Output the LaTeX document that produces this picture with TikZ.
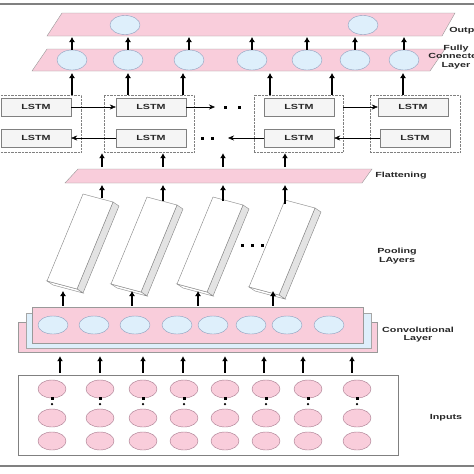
\documentclass[tikz,border=0pt]{standalone}
\usepackage{fontspec}
\newfontfamily\lblfont[FakeStretch=1.45]{Liberation Sans}
\usetikzlibrary{arrows.meta,shapes.geometric}

\definecolor{layerpink}{RGB}{249,205,219}
\definecolor{cellblue}{RGB}{222,239,251}
\definecolor{cellline}{RGB}{140,160,190}
\definecolor{inline}{RGB}{165,120,140}

\begin{document}
\begin{tikzpicture}[x=1pt,y=-1pt,>={Latex[length=5pt,width=6pt]},semithick,
    font=\lblfont\bfseries\fontsize{7.4}{8.5}\selectfont]
        \tikzstyle{layer}=[fill=layerpink,draw=gray!80,thin]
        \tikzstyle{cell}=[ellipse,fill=cellblue,draw=cellline,thin,minimum width=30pt,minimum height=19pt,inner sep=0pt]
        \tikzstyle{incell}=[ellipse,fill=layerpink,draw=inline,thin,minimum width=28pt,minimum height=18pt,inner sep=0pt]
        \tikzstyle{lstmbox}=[draw=gray,fill=gray!8,thin,minimum width=70pt,minimum height=18pt,inner sep=0pt,text=black!85]
        \tikzstyle{group}=[draw=gray,densely dotted,thin,minimum height=57pt,inner sep=0pt]
        \tikzstyle{uparrow}=[->,line width=1.3pt]
        \tikzstyle{sidearrow}=[-{Stealth[length=6pt,width=5pt]},thin]
        \tikzstyle{lbl}=[text=black!85,align=center,inner sep=0pt]
        \tikzstyle{dot}=[fill=black,inner sep=0pt,minimum size=3pt]
        \tikzstyle{slab}=[draw=gray,thin]

        \useasboundingbox (0,0) rectangle (474,474);
        \fill[white] (0,0) rectangle (474,474);
        \draw[gray,line width=1.5pt] (0,4) -- (474,4);
        \draw[gray,line width=1.5pt] (0,466) -- (474,466);

        % output layer
        \draw[layer] (62,13) -- (455,13) -- (442,36) -- (47,36) -- cycle;
        \coordinate (outbot) at (0,36);
        \node[cell] (out1) at (125,25) {};
        \node[cell] (out2) at (363,25) {};
        \node[lbl,anchor=west] (outlbl) at (449,31) {Output};

        % fully connected layer
        \draw[layer] (47,49) -- (445,49) -- (430,71) -- (32,71) -- cycle;
        \coordinate (fcbot) at (0,71);
        \foreach \x [count=\i] in {72,128,189,252,307,355,404}
            \node[cell,minimum height=20pt] (fc\i) at (\x,60) {};
        \foreach \i in {1,...,7}
            \draw[uparrow,shorten >=1pt] (fc\i.north) -- (fc\i |- outbot);
        \node[lbl] (fclbl) at (456,57) {Fully\\Connected\\Layer};

        % lstm blocks
        \node[group,minimum width=83pt] (bx1) at (39.5,123.5) {};
        \node[group,minimum width=90pt] (bx2) at (149,123.5) {};
        \node[group,minimum width=89pt] (bx3) at (298.5,123.5) {};
        \node[group,minimum width=90pt] (bx4) at (415,123.5) {};

        \node[lstmbox] (l11) at (36,107)  {LSTM};
        \node[lstmbox] (l12) at (151,107) {LSTM};
        \node[lstmbox] (l13) at (299,107) {LSTM};
        \node[lstmbox] (l14) at (413,107) {LSTM};
        \node[lstmbox] (l21) at (36,138)  {LSTM};
        \node[lstmbox] (l22) at (151,138) {LSTM};
        \node[lstmbox] (l23) at (299,138) {LSTM};
        \node[lstmbox] (l24) at (415,138) {LSTM};

        \coordinate (fw) at (215,107);
        \coordinate (bw) at (228,138);
        \node[dot] (fd1) at (225,107) {};
        \node[dot] (fd2) at (239,107) {};
        \node[dot] (bd1) at (202,138) {};
        \node[dot] (bd2) at (212,138) {};

        \draw[sidearrow] (l11.east) -- (l12.west);
        \draw[sidearrow] (l12.east) -- (fw);
        \draw[sidearrow] (bx3.east |- l13) -- (l14.west);
        \draw[sidearrow] (l22.west) -- (l21.east);
        \draw[sidearrow] (l23.west) -- (bw);
        \draw[sidearrow] (l24.west) -- (l23.east);

        \foreach \x [count=\i] in {72,128,183,270,332,403}
            \coordinate (up\i) at (\x,71);
        \draw[uparrow,shorten >=2pt] (up1 |- bx1.north) -- (up1);
        \draw[uparrow,shorten >=2pt] (up2 |- bx2.north) -- (up2);
        \draw[uparrow,shorten >=2pt] (up3 |- bx2.north) -- (up3);
        \draw[uparrow,shorten >=2pt] (up4 |- bx3.north) -- (up4);
        \draw[uparrow,shorten >=2pt] (up5 |- bx3.north) -- (up5);
        \draw[uparrow,shorten >=2pt] (up6 |- bx4.north) -- (up6);

        % flattening
        \draw[layer] (78,169) -- (372,169) -- (362,183) -- (65,183) -- cycle;
        \coordinate (flattop) at (0,169);
        \coordinate (flatbot) at (0,183);
        \node[lbl,anchor=west] (flatlbl) at (375,176) {Flattening};

        % pooling layers
        \foreach \x/\y [count=\i] in {83/194,147/197,213/197,285/200}{
            \draw[slab,fill=gray!22] (\x+30,\y+8) -- ++(6,4) -- ++(-36,87) -- ++(-6,-4) -- cycle;
            \draw[slab,fill=white] (\x-36,\y+87) -- ++(30,8) -- ++(6,4) -- ++(-30,-8) -- cycle;
            \draw[slab,fill=white] (\x,\y) -- ++(30,8) -- ++(-36,87) -- ++(-30,-8) -- cycle;
            \coordinate (pl\i) at (\x+15,\y+4);
        }
        \foreach \x [count=\i] in {242,252,262}
            \node[dot] (pd\i) at (\x,245) {};
        \node[lbl] (poollbl) at (397,256) {Pooling\\LAyers};

        \foreach \x [count=\i] in {102,163,223,285}{
            \coordinate (fa\i) at (\x,0);
            \draw[uparrow,shorten <=2pt,shorten >=1pt] (fa\i |- flattop) -- (fa\i |- bx2.south);
            \draw[uparrow,shorten >=2pt] (fa\i |- pl\i) -- (fa\i |- flatbot);
        }

        % convolutional layer
        \node[layer,minimum width=359pt,minimum height=30pt] (back) at (197.5,337) {};
        \node[fill=cellblue,draw=gray!70,thin,minimum width=345pt,minimum height=35pt] (mid) at (198.5,330.5) {};
        \node[layer,minimum width=331pt,minimum height=36pt] (conv) at (197.5,325) {};
        \foreach \x [count=\i] in {53,94,135,177,213,251,287,329}
            \node[cell,minimum height=18pt] (cv\i) at (\x,325) {};
        \node[lbl] (convlbl) at (418,334.5) {Convolutional\\Layer};

        \foreach \x [count=\i] in {63,132,198,273}{
            \coordinate (pb\i) at (\x,291);
            \draw[uparrow,shorten <=1pt] (pb\i |- conv.north) -- (pb\i);
        }

        % inputs
        \node[draw=gray,thin,fill=white,minimum width=380pt,minimum height=80pt] (inputs) at (208,415) {};
        \foreach \x [count=\i] in {52,100,143,184,225,266,308,357}{
            \node[incell] (ia\i) at (\x,389) {};
            \node[dot] (sq\i) at (\x,398) {};
            \node[dot,circle,minimum size=2.5pt] (pt\i) at (\x,404) {};
            \node[incell] (ib\i) at (\x,418) {};
            \node[incell] (ic\i) at (\x,441) {};
        }
        \node[lbl] (inlbl) at (446,418) {Inputs};

        \foreach \x [count=\i] in {60,100,143,183,225,264,303,352}{
            \coordinate (ca\i) at (\x,0);
            \draw[uparrow,shorten <=2pt,shorten >=4pt] (ca\i |- inputs.north) -- (ca\i |- back.south);
        }
\end{tikzpicture}
\end{document}
